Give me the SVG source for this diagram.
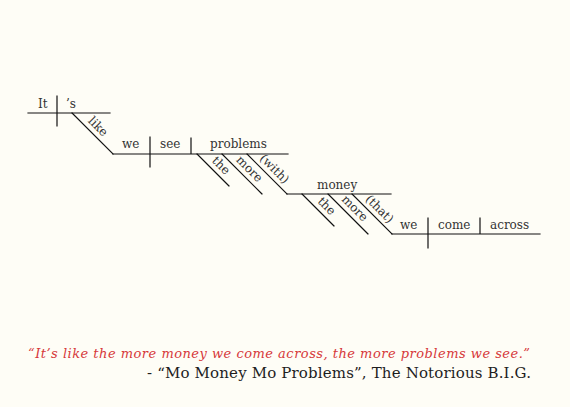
<svg xmlns="http://www.w3.org/2000/svg" width="570" height="407" viewBox="0 0 570 407">
<style>
.ln{stroke:#111;stroke-width:1.2;fill:none;stroke-linecap:square}
.w{font-family:"DejaVu Serif","Liberation Serif",serif;font-size:12px;fill:#333}
.d{text-anchor:middle}
.q{font-family:"DejaVu Serif","Liberation Serif",serif;font-style:italic;font-size:13px;fill:#d6383a}
.a{font-family:"DejaVu Serif","Liberation Serif",serif;font-size:15px;fill:#1e1e1e}
</style>
<rect width="570" height="407" fill="#fefdf6"/>
<g id="connectors">
<path class="ln" d="M28 113H110M57 96V126"/>
<path class="ln" d="M72 113L113 154"/>
<path class="ln" d="M113 154H288M150 137V167M191 138V154"/>
<path class="ln" d="M197 154L229 186M222 154L262 194M247 154L287 194"/>
<path class="ln" d="M287 194H391"/>
<path class="ln" d="M302 194L334 226M328 194L368 234M352 194L392 234"/>
<path class="ln" d="M392 234H540M428 218V248M480 218V234"/>
</g>
<g id="n-it"><text class="w" x="38" y="108">It</text></g>
<g id="n-s"><text class="w" x="66" y="108">’s</text></g>
<g id="n-like"><text class="w d" transform="translate(95.3 129.3) rotate(45)">like</text></g>
<g id="n-we1"><text class="w" x="122" y="148">we</text></g>
<g id="n-see"><text class="w" x="160" y="148">see</text></g>
<g id="n-problems"><text class="w" x="210" y="148">problems</text></g>
<g id="n-the1"><text class="w d" transform="translate(218.2 168.2) rotate(45)">the</text></g>
<g id="n-more1"><text class="w d" transform="translate(246.7 171.7) rotate(45)">more</text></g>
<g id="n-with"><text class="w d" transform="translate(271.7 171.7) rotate(45)">(with)</text></g>
<g id="n-money"><text class="w" x="317" y="189">money</text></g>
<g id="n-the2"><text class="w d" transform="translate(323.9 208.9) rotate(45)">the</text></g>
<g id="n-more2"><text class="w d" transform="translate(352 211) rotate(45)">more</text></g>
<g id="n-that"><text class="w d" transform="translate(376.7 211.7) rotate(45)">(that)</text></g>
<g id="n-we2"><text class="w" x="400" y="229">we</text></g>
<g id="n-come"><text class="w" x="438" y="229">come</text></g>
<g id="n-across"><text class="w" x="490" y="229">across</text></g>
<g id="quote"><text class="q" x="28" y="358" textLength="502" lengthAdjust="spacing">“It’s like the more money we come across, the more problems we see.”</text></g>
<g id="attribution"><text class="a" x="147" y="378" textLength="384" lengthAdjust="spacing">- “Mo Money Mo Problems”, The Notorious B.I.G.</text></g>
</svg>
